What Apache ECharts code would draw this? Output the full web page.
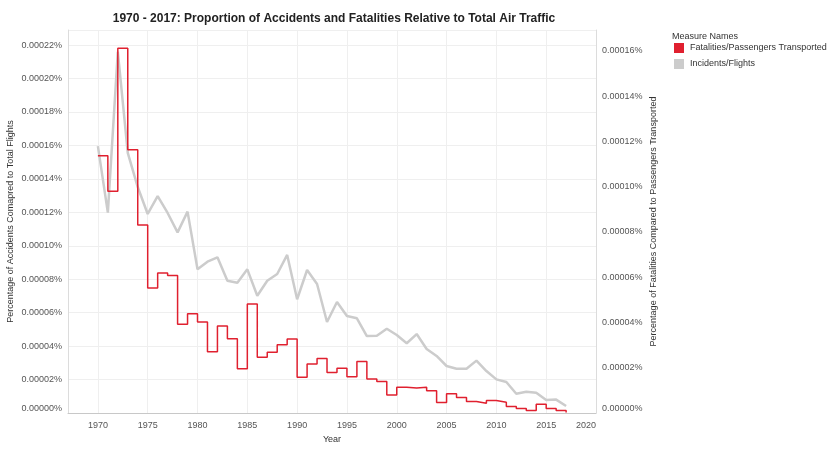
<!DOCTYPE html>
<html>
<head>
<meta charset="utf-8">
<script src="https://cdn.jsdelivr.net/npm/echarts@6/dist/echarts.min.js"></script>
<style>
  html, body { margin: 0; padding: 0; background: #fff; }
  #chart { width: 828px; height: 451px; }
</style>
</head>
<body>
<div id="chart"></div>
<script>
// axis categories (full span shown on the x axis)
const axisYears = [];
for (let y = 1967; y <= 2020; y++) axisYears.push(String(y));

const years = [
  1970, 1971, 1972, 1973, 1974, 1975, 1976, 1977, 1978, 1979,
  1980, 1981, 1982, 1983, 1984, 1985, 1986, 1987, 1988, 1989,
  1990, 1991, 1992, 1993, 1994, 1995, 1996, 1997, 1998, 1999,
  2000, 2001, 2002, 2003, 2004, 2005, 2006, 2007, 2008, 2009,
  2010, 2011, 2012, 2013, 2014, 2015, 2016, 2017
];

// Fatalities / passengers transported (%), right axis
const fatalities = [
  0.0001136, 0.0000980, 0.0001611, 0.0001163, 0.0000831, 0.0000552, 0.0000619, 0.0000607, 0.0000392, 0.0000439,
  0.0000402, 0.0000271, 0.0000384, 0.0000328, 0.0000196, 0.0000481, 0.0000246, 0.0000268, 0.0000302, 0.0000327,
  0.0000158, 0.0000216, 0.0000241, 0.0000179, 0.0000198, 0.0000160, 0.0000228, 0.0000150, 0.0000139, 0.0000079,
  0.0000114, 0.0000110, 0.0000114, 0.0000098, 0.0000046, 0.0000085, 0.0000069, 0.0000051, 0.0000043, 0.0000055,
  0.0000048, 0.0000029, 0.0000020, 0.0000011, 0.0000039, 0.0000020, 0.0000011, 0.0000002
];

// Incidents / flights (%), left axis
const incidents = [
  0.0001596, 0.0001198, 0.0002160, 0.0001555, 0.0001351, 0.0001190, 0.0001297, 0.0001196, 0.0001080, 0.0001204,
  0.0000859, 0.0000905, 0.0000931, 0.0000791, 0.0000779, 0.0000859, 0.0000701, 0.0000791, 0.0000831, 0.0000945,
  0.0000680, 0.0000855, 0.0000771, 0.0000544, 0.0000664, 0.0000580, 0.0000566, 0.0000460, 0.0000462, 0.0000504,
  0.0000466, 0.0000417, 0.0000472, 0.0000383, 0.0000341, 0.0000281, 0.0000265, 0.0000265, 0.0000313, 0.0000251,
  0.0000201, 0.0000185, 0.0000115, 0.0000127, 0.0000121, 0.0000078, 0.0000080, 0.0000042
];

const font = 'Liberation Sans, Arial, sans-serif';
const pct = v => v.toFixed(5) + '%';
const every5 = (i, v) => Number(v) % 5 === 0;

const chart = echarts.init(document.getElementById('chart'));
chart.setOption({
  animation: false,
  textStyle: { fontFamily: font },
  title: [
    {
      text: '1970 - 2017: Proportion of Accidents and Fatalities Relative to Total Air Traffic',
      left: 329, top: 8, textAlign: 'center',
      textStyle: { fontSize: 12, fontWeight: 'bold', color: '#222', fontFamily: font }
    },
    {
      text: 'Measure Names',
      left: 667, top: 27,
      textStyle: { fontSize: 9, fontWeight: 'normal', color: '#333', fontFamily: font }
    }
  ],
  legend: {
    orient: 'vertical',
    left: 669, top: 38,
    itemWidth: 10, itemHeight: 10, itemGap: 6,
    icon: 'rect',
    textStyle: { fontSize: 9, color: '#333', padding: [0, 0, 0, 1] },
    data: ['Fatalities/Passengers Transported', 'Incidents/Flights']
  },
  grid: { left: 68, right: 232, top: 30, bottom: 38, outerBoundsMode: 'none', containLabel: false },
  xAxis: {
    type: 'category',
    data: axisYears,
    boundaryGap: false,
    name: 'Year',
    nameLocation: 'middle',
    nameGap: 21,
    nameTextStyle: { fontSize: 9, color: '#333' },
    axisLine: { lineStyle: { color: '#c8c8c8' } },
    axisTick: { show: false },
    axisLabel: { interval: every5, fontSize: 9, color: '#555', margin: 8, alignMaxLabel: 'right' },
    splitLine: { show: true, interval: every5, lineStyle: { color: '#efefef' } }
  },
  yAxis: [
    {
      type: 'value',
      min: 0, max: 0.000229, interval: 0.00002,
      name: 'Percentage of Accidents Comapred to Total Flights',
      nameLocation: 'middle',
      nameGap: 53,
      nameMoveOverlap: false,
      nameTextStyle: { fontSize: 9, color: '#333' },
      axisLine: { show: true, lineStyle: { color: '#dcdcdc' } },
      axisTick: { show: false },
      axisLabel: { formatter: pct, fontSize: 9, color: '#555', margin: 6, showMaxLabel: false, verticalAlignMinLabel: 'bottom' },
      splitLine: { lineStyle: { color: '#efefef' } }
    },
    {
      type: 'value',
      min: 0, max: 0.0001692, interval: 0.00002,
      name: 'Percentage of Fatalities Compared to Passengers Transported',
      nameLocation: 'middle',
      nameGap: 53,
      nameMoveOverlap: false,
      nameRotate: 90,
      nameTextStyle: { fontSize: 9, color: '#333' },
      axisLine: { show: true, lineStyle: { color: '#dcdcdc' } },
      axisTick: { show: false },
      axisLabel: { formatter: pct, fontSize: 9, color: '#555', margin: 6, showMaxLabel: false, verticalAlignMinLabel: 'bottom' },
      splitLine: { show: false }
    }
  ],
  series: [
    {
      name: 'Incidents/Flights',
      type: 'line',
      yAxisIndex: 0,
      data: years.map((y, i) => [String(y), incidents[i]]),
      showSymbol: false,
      color: '#cccccc',
      lineStyle: { width: 2.5, color: '#cccccc' },
      z: 2
    },
    {
      name: 'Fatalities/Passengers Transported',
      type: 'line',
      yAxisIndex: 1,
      step: 'end',
      data: years.map((y, i) => [String(y), fatalities[i]]),
      showSymbol: false,
      color: '#e0202f',
      lineStyle: { width: 1.5, color: '#e0202f' },
      z: 3
    }
  ]
});
</script>
</body>
</html>
